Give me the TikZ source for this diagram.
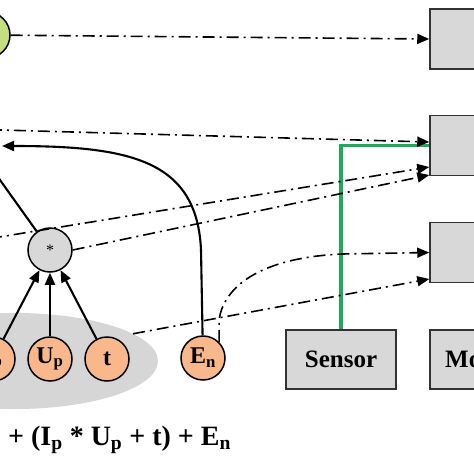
\documentclass[tikz,border=0pt]{standalone}
\usepackage{fontspec}
\setmainfont{Liberation Serif}
\usetikzlibrary{arrows.meta,shapes.geometric}
\definecolor{leaf}{RGB}{196,222,128}
\definecolor{peach}{RGB}{248,184,140}
\definecolor{boxgray}{RGB}{216,216,216}
\definecolor{shade}{RGB}{214,214,214}
\definecolor{wire}{RGB}{30,170,90}
\tikzset{
  sig/.style={->, line width=1.6pt, dash pattern=on 12pt off 5pt on 2pt off 5pt},
  feed/.style={->, line width=2.1pt},
  var/.style={circle, draw, line width=1.5pt, fill=peach, minimum size=44pt, inner sep=0pt,
    font=\fontsize{24}{24}\selectfont\bfseries},
  blk/.style={rectangle, draw=black!80, line width=1.5pt, fill=boxgray, inner sep=0pt,
    minimum width=90pt, minimum height=60pt, font=\fontsize{25}{25}\selectfont\bfseries}
}
\begin{document}
\begin{tikzpicture}[x=1pt, y=-1pt, >={Triangle[length=12pt,width=10pt]}]
    \clip (0,0) rectangle (474,474);
    % grouped inputs
    \node[ellipse, fill=shade, minimum width=286pt, minimum height=96pt, inner sep=0pt] (grp) at (15,361) {};
    \node[var] (Ip) at (-7,359) {I\textsubscript{p}};
    \node[var] (Up) at (50,359) {U\textsubscript{p}};
    \node[var] (t) at (107,359) {t};
    \node[var] (En) at (203,358) {E\textsubscript{n}};
    \node[var, fill=boxgray, font=\fontsize{16}{16}\selectfont] (mult) at (50,250) {*};
    \node[circle, draw, line width=1.5pt, fill=leaf, minimum size=46pt] (src) at (-13,35) {};
    % blocks on the right
    \node[blk] (out1) at (475,39) {};
    \node[blk] (out2) at (475,145.5) {};
    \node[blk] (out3) at (475,252.5) {};
    \node[blk, minimum width=110pt, minimum height=59pt] (sensor) at (341,359.5) {Sensor};
    \node[blk, minimum height=59pt] (mo) at (475,359.5) {};
    \node[anchor=west, inner sep=0pt, font=\fontsize{25}{25}\selectfont\bfseries] (molabel) at (445,359.5) {Mo};
    % free ends off the left edge
    \coordinate (farA) at (-10,129.7);
    \coordinate (farB) at (-10,238.5);
    \coordinate (sumIn) at (2,146);
    \coordinate (sumOut) at (-20,152);
    % connections
    \draw[wire, line width=3.2pt] (sensor.north) |- (out2.west);
    \draw[feed] (Ip) -- (mult);
    \draw[feed] (Up) -- (mult);
    \draw[feed] (t) -- (mult);
    \draw[line width=2.1pt] (mult) -- (sumOut);
    \draw[feed] (En) -- (201,250) .. controls (197,160) and (130,146) .. (sumIn);
    \draw[sig] (src) -- (out1.west);
    \draw[sig] (farA) -- ([yshift=3.5pt]out2.west);
    \draw[sig] (farB) -- ([yshift=-21.5pt]out2.west);
    \draw[sig] (mult.east) -- ([yshift=-29.5pt]out2.west);
    \draw[sig] (grp.13) -- ([yshift=-26.5pt]out3.west);
    \draw[sig] (En.45) -- ++(0,-22) .. controls +(4,-30) and (255,258) .. (342,254) -- (out3.west);
    % formula
    \node[anchor=west, inner sep=0pt, font=\fontsize{28}{28}\selectfont\bfseries] (formula) at (8,440)
        {+ (I\textsubscript{p} * U\textsubscript{p} + t) + E\textsubscript{n}};
\end{tikzpicture}
\end{document}
